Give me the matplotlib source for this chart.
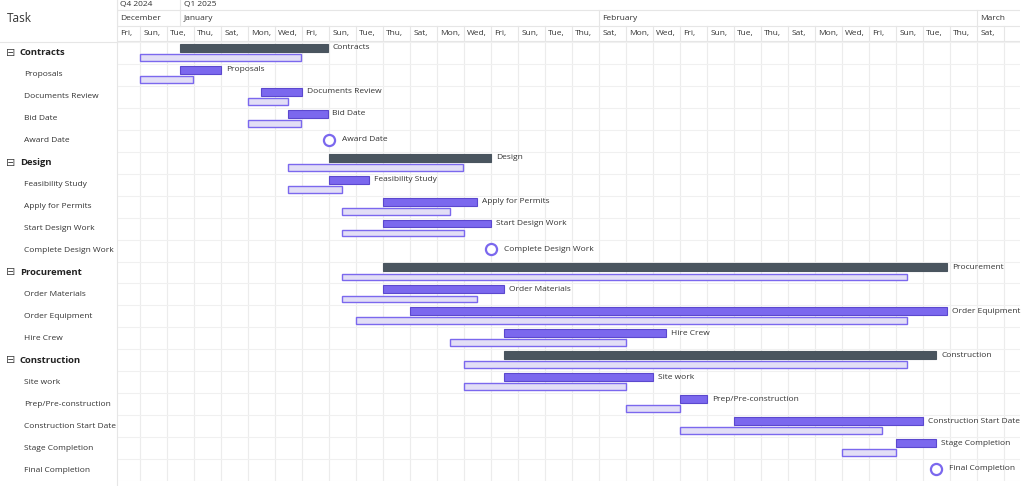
import matplotlib
matplotlib.use("Agg")
import matplotlib.pyplot as plt
import matplotlib.dates as mdates
from matplotlib.patches import Rectangle
import datetime as dt

plt.rcParams['font.family'] = ['Open Sans', 'DejaVu Sans']

tasks = ["Contracts", "Proposals", "Documents Review", "Bid Date", "Award Date",
         "Design", "Feasibility Study", "Apply for Permits", "Start Design Work", "Complete Design Work",
         "Procurement", "Order Materials", "Order Equipment", "Hire Crew",
         "Construction", "Site work", "Prep/Pre-construction", "Construction Start Date",
         "Stage Completion", "Final Completion"]
kinds = ["group", "task", "task", "task", "milestone",
         "group", "task", "task", "task", "milestone",
         "group", "task", "task", "task",
         "group", "task", "task", "task", "task", "milestone"]
start = ["2025-01-01", "2025-01-01", "2025-01-07", "2025-01-09", "2025-01-12",
         "2025-01-12", "2025-01-12", "2025-01-16", "2025-01-16", "2025-01-24",
         "2025-01-16", "2025-01-16", "2025-01-18", "2025-01-25",
         "2025-01-25", "2025-01-25", "2025-02-07", "2025-02-11", "2025-02-23", "2025-02-26"]
end = ["2025-01-11.9", "2025-01-04", "2025-01-10", "2025-01-11.9", None,
       "2025-01-24", "2025-01-15", "2025-01-23", "2025-01-24", None,
       "2025-02-26.8", "2025-01-25", "2025-02-26.8", "2025-02-06",
       "2025-02-26", "2025-02-05", "2025-02-09", "2025-02-25", "2025-02-26", None]
base_start = ["2024-12-29", "2024-12-29", "2025-01-06", "2025-01-06", None,
              "2025-01-09", "2025-01-09", "2025-01-13", "2025-01-13", None,
              "2025-01-13", "2025-01-13", "2025-01-14", "2025-01-21",
              "2025-01-22", "2025-01-22", "2025-02-03", "2025-02-07", "2025-02-19", None]
base_end = ["2025-01-09.9", "2025-01-01.9", "2025-01-09", "2025-01-09.9", None,
            "2025-01-21.9", "2025-01-13", "2025-01-21", "2025-01-22", None,
            "2025-02-23.8", "2025-01-23", "2025-02-23.8", "2025-02-03",
            "2025-02-23.8", "2025-02-03", "2025-02-07", "2025-02-22", "2025-02-23", None]

def dn(s):
    if "." in s:
        d, f = s.split(".")
        return mdates.date2num(dt.datetime.fromisoformat(d)) + float("0." + f)
    return mdates.date2num(dt.datetime.fromisoformat(s))

W, H = 1024, 486
fig = plt.figure(figsize=(W/100, H/100), dpi=100)
X0, X1 = 117, 1020
Y0, Y1 = 42, 481
xmin = dn("2024-12-27.3"); xmax = xmin + (X1-X0)/13.5

ax = fig.add_axes([X0/W, 1-Y1/H, (X1-X0)/W, (Y1-Y0)/H])
n = len(tasks)
ax.set_xlim(xmin, xmax); ax.set_ylim(n, 0)
ax.axis('off')
ticks = [dn("2024-12-27") + 2*k for k in range(40)]
for t in ticks:
    if xmin < t < xmax:
        ax.axvline(t, color="#ececec", lw=0.8, zorder=0)
for i in range(n+1):
    ax.axhline(i, color="#f0f0f0", lw=0.8, zorder=0)

purple = "#7b68ee"; dark = "#4a555f"
for i, (k, s, e, bs, be, lab) in enumerate(zip(kinds, start, end, base_start, base_end, tasks)):
    if k == "milestone":
        x = dn(s)
        ax.plot(x, i+0.45, 'o', ms=8, mfc='white', mec=purple, mew=1.6, zorder=4)
        ax.text(x + 0.95, i+0.45, lab, fontsize=6.0, va='center', color="#333333")
        continue
    x, x2 = dn(s), dn(e)
    col = dark if k == "group" else purple
    ax.add_patch(Rectangle((x, i+0.09), x2-x, 0.36, fc=col, ec=col if k == "group" else "#5b48ce", lw=0.8, zorder=3))
    ax.add_patch(Rectangle((dn(bs), i+0.55), dn(be)-dn(bs), 0.31, fc="#e2def6", ec=purple, lw=1.0, zorder=2))
    ax.text(x2 + 0.35, i+0.27, lab, fontsize=6.0, va='center', color="#333333")

# header
hx = fig.add_axes([X0/W, 1-Y0/H, (X1-X0)/W, Y0/H])
hx.set_xlim(xmin, xmax); hx.set_ylim(42, 0); hx.axis('off')
hx.axhline(10, color="#e6e6e6", lw=0.8); hx.axhline(26, color="#e6e6e6", lw=0.8)
hx.axhline(41.5, color="#e6e6e6", lw=0.8)
qs = [("Q4 2024", xmin), ("Q1 2025", dn("2025-01-01"))]
for q, x in qs:
    hx.text(x + 0.25, 4.5, q, fontsize=6.0, va='center', color="#333333")
    hx.plot([x, x], [0, 10], color="#e6e6e6", lw=0.8)
months = [("December", xmin), ("January", dn("2025-01-01")), ("February", dn("2025-02-01")), ("March", dn("2025-03-01"))]
for m, x in months:
    hx.text(x + 0.25, 18, m, fontsize=6.0, va='center', color="#333333")
    hx.plot([x, x], [10, 26], color="#e6e6e6", lw=0.8)
for t in ticks:
    if t < xmax - 1.3:
        name = mdates.num2date(t).strftime("%a") + ","
        hx.text(max(t, xmin) + 0.25, 34, name, fontsize=6.0, va='center', color="#333333")
    if xmin < t < xmax:
        hx.plot([t, t], [26, 42], color="#e6e6e6", lw=0.8)

# left pane
fig.text(7/W, 1-18/H, "Task", fontsize=8.5, va='center', color="#333333")
fig.add_artist(plt.Line2D([0, X0/W], [1-Y0/H]*2, color="#e6e6e6", lw=0.8))
fig.add_artist(plt.Line2D([X0/W]*2, [0, 1], color="#e6e6e6", lw=0.8))
rh = (Y1-Y0)/n
for i, (k, lab) in enumerate(zip(kinds, tasks)):
    yc = 1 - (Y0 + rh*(i+0.5))/H
    if k == "group":
        fig.text(6/W, yc, "⊟", fontsize=8, va='center', color="#444444", family=['DejaVu Sans'])
        fig.text(20/W, yc, lab, fontsize=6.8, va='center', weight='bold', color="#222222")
    else:
        fig.text(24/W, yc, lab, fontsize=6.0, va='center', color="#333333")

fig.savefig("out.png", dpi=100)
